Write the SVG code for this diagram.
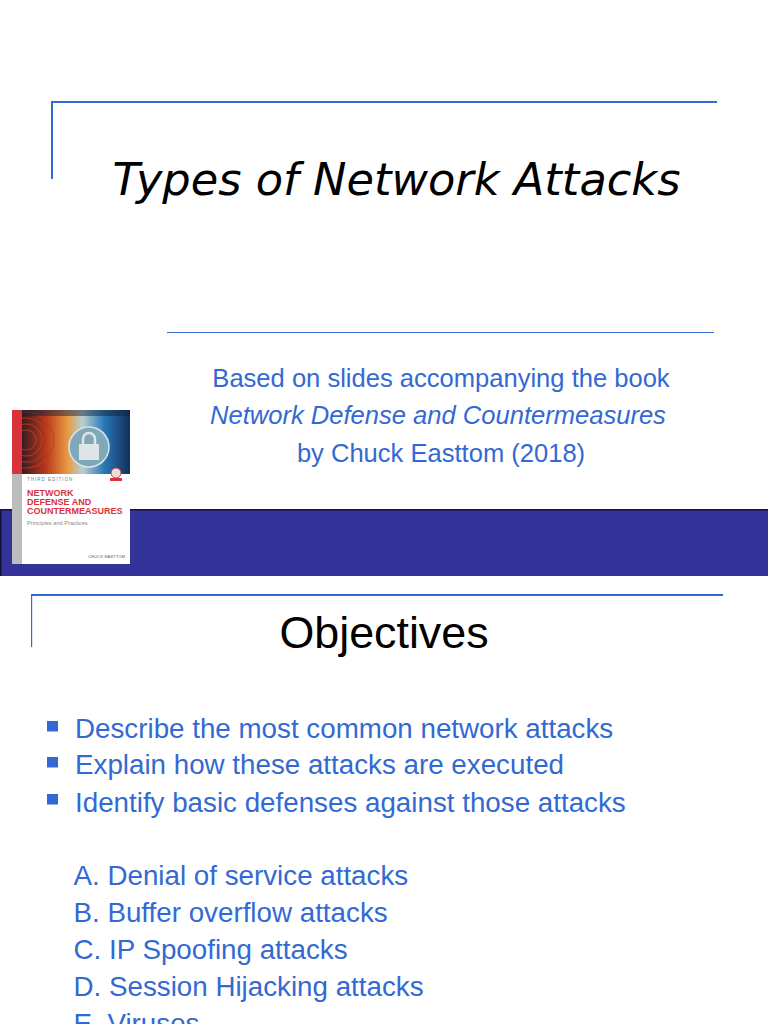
<svg xmlns="http://www.w3.org/2000/svg" width="768" height="1024" viewBox="0 0 768 1024">
<style>
.s{font-family:"Liberation Sans",Arial,sans-serif;fill:#3369d3;font-size:25.55px}
.b{font-family:"Liberation Sans",Arial,sans-serif;fill:#3369d3;font-size:27.75px}
.l{fill:#3369d3}
.c{font-family:"Liberation Sans",Arial,sans-serif;fill:#d8323a;font-weight:bold;font-size:9px}
.r{fill:none;stroke:#c8401a;stroke-width:1.2;opacity:.7}
</style>
<defs>
<linearGradient id="g" x1="0" x2="1" y1="0" y2="0"><stop offset="0" stop-color="#3a1a22"/><stop offset=".22" stop-color="#b8381c"/><stop offset=".42" stop-color="#e89a40"/><stop offset=".56" stop-color="#b8d0d0"/><stop offset=".76" stop-color="#2a78b8"/><stop offset="1" stop-color="#12305a"/></linearGradient>
<clipPath id="cv"><rect x="22" y="410" width="108" height="64"/></clipPath>
</defs>
<rect width="768" height="1024" fill="#fff"/>
<g id="slide1">
<rect class="l" x="51" y="101" width="666" height="2"/>
<rect class="l" x="51" y="101" width="2" height="78"/>
<text x="396.500" y="195" text-anchor="middle" font-family="'DejaVu Sans',sans-serif" font-style="italic" font-size="44.7" fill="#000">Types of Network Attacks</text>
<rect class="l" x="167" y="332" width="547" height="1"/>
<text class="s" x="441" y="387" text-anchor="middle">Based on slides accompanying the book</text>
<text class="s" x="438" y="424" text-anchor="middle" font-style="italic">Network Defense and Countermeasures</text>
<text class="s" x="441" y="462" text-anchor="middle">by Chuck Easttom (2018)</text>
<rect x="1" y="509" width="767" height="67" fill="#333399"/>
<rect x="1" y="509" width="767" height="1.500" fill="#14143c"/>
<rect x="0" y="509" width="1.500" height="67" fill="#14143c"/>
</g>
<g id="book">
<rect x="12" y="410" width="118" height="154" fill="#fff"/>
<rect x="12" y="410" width="10" height="64" fill="#d8323a"/>
<rect x="12" y="474" width="10" height="90" fill="#bdbdbd"/>
<rect x="22" y="410" width="108" height="64" fill="url(#g)"/>
<g clip-path="url(#cv)">
<circle class="r" cx="26" cy="440" r="10"/>
<circle class="r" cx="26" cy="440" r="16"/>
<circle class="r" cx="26" cy="440" r="22"/>
<circle class="r" cx="26" cy="440" r="28"/>
<rect x="22" y="410" width="108" height="6" fill="#14223c" opacity=".5"/>
</g>
<circle cx="89" cy="447" r="20" fill="#7fa8b8" stroke="#d4e6ea" stroke-width="1.500"/>
<rect x="79" y="444" width="20" height="16" fill="#dfe4e6"/>
<path d="M83 444v-5a6 6 0 0 1 12 0v5" fill="none" stroke="#dfe4e6" stroke-width="2.500"/>
<circle cx="116" cy="473" r="5" fill="#e8e0dc" stroke="#c8404a" stroke-width="1"/>
<rect x="110" y="478" width="12" height="3" fill="#d8323a"/>
<text x="27" y="481" font-family="'Liberation Sans',sans-serif" font-size="4.500" fill="#777" letter-spacing="1">THIRD EDITION</text>
<text class="c" x="27" y="496">NETWORK</text>
<text class="c" x="27" y="505">DEFENSE AND</text>
<text class="c" x="27" y="514">COUNTERMEASURES</text>
<text x="27" y="525" font-family="'Liberation Sans',sans-serif" font-size="5.700" fill="#888">Principles and Practices</text>
<text x="88" y="558" font-family="'Liberation Sans',sans-serif" font-size="4.300" fill="#666">CHUCK EASTTOM</text>
</g>
<g id="slide2">
<rect class="l" x="31" y="594" width="692" height="2"/>
<rect class="l" x="31" y="594" width="1.200" height="53"/>
<text x="384" y="648" text-anchor="middle" font-family="'Liberation Sans',sans-serif" font-size="44.800" fill="#000">Objectives</text>
<rect class="l" x="47" y="721" width="11" height="10.500"/>
<rect class="l" x="47" y="757" width="11" height="10.500"/>
<rect class="l" x="47" y="794" width="11" height="10.500"/>
<text class="b" x="75" y="738">Describe the most common network attacks</text>
<text class="b" x="75" y="774">Explain how these attacks are executed</text>
<text class="b" x="75" y="812">Identify basic defenses against those attacks</text>
<text class="b" x="73.500" y="885">A. Denial of service attacks</text>
<text class="b" x="73.500" y="922">B. Buffer overflow attacks</text>
<text class="b" x="73.500" y="959">C. IP Spoofing attacks</text>
<text class="b" x="73.500" y="996">D. Session Hijacking attacks</text>
<text class="b" x="73.500" y="1033">E. Viruses</text>
</g>
</svg>
